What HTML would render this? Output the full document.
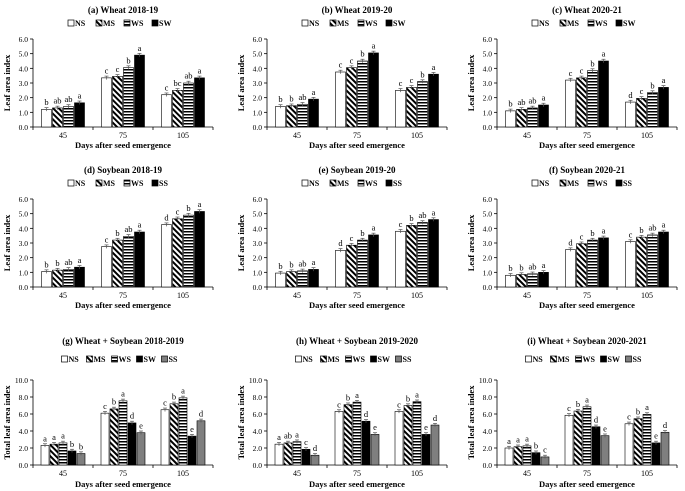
<!DOCTYPE html>
<html><head><meta charset="utf-8"><style>
body{margin:0;background:#fff}
svg{display:block;font-family:"Liberation Serif",serif}
</style></head><body>
<svg id="c" width="685" height="491">
<defs>
<pattern id="pMS" width="4" height="4" patternUnits="userSpaceOnUse" patternTransform="rotate(-45)"><rect width="4" height="4" fill="#fff"/><rect width="2" height="4" fill="#000"/></pattern>
<pattern id="pWS" width="4" height="3" patternUnits="userSpaceOnUse"><rect width="4" height="3" fill="#fff"/><rect width="4" height="1.5" fill="#000"/></pattern>
</defs>
</svg>
<script>
const categories=["45","75","105"];
const titles=["(a) Wheat 2018-19","(b) Wheat 2019-20","(c) Wheat 2020-21","(d) Soybean 2018-19","(e) Soybean 2019-20","(f) Soybean 2020-21","(g) Wheat + Soybean 2018-2019","(h) Wheat + Soybean 2019-2020","(i) Wheat + Soybean 2020-2021"];
const seriesRow1=["NS","MS","WS","SW"];
const seriesRow2=["NS","MS","WS","SS"];
const seriesRow3=["NS","MS","WS","SW","SS"];
const yTicksSmall=[0,1,2,3,4,5,6];
const yTicksLarge=[0,2,4,6,8,10];
const valuesA=[[1.2,1.3,1.4,1.65],[3.35,3.45,4.05,4.9],[2.2,2.5,3.0,3.35]];
const valuesB=[[1.4,1.45,1.55,1.9],[3.75,4.05,4.5,5.05],[2.5,2.7,3.1,3.6]];
const valuesC=[[1.1,1.2,1.3,1.5],[3.2,3.35,3.85,4.5],[1.7,1.95,2.35,2.7]];
const valuesD=[[1.05,1.15,1.2,1.35],[2.75,3.2,3.45,3.75],[4.25,4.65,4.9,5.15]];
const valuesE=[[0.95,1.05,1.1,1.2],[2.5,2.85,3.2,3.55],[3.8,4.2,4.4,4.6]];
const valuesF=[[0.8,0.85,0.9,1.0],[2.55,2.95,3.2,3.35],[3.1,3.4,3.55,3.75]];
const valuesG=[[2.3,2.45,2.6,1.65,1.35],[6.1,6.6,7.55,4.95,3.8],[6.5,7.2,7.9,3.4,5.2]];
const valuesH=[[2.45,2.6,2.75,1.85,1.15],[6.3,7.1,7.4,5.15,3.6],[6.3,7.0,7.45,3.6,4.7]];
const valuesI=[[2.0,2.15,2.25,1.45,0.95],[5.85,6.35,6.85,4.5,3.45],[4.85,5.45,5.95,2.6,3.85]];
const lettersA=[["b","ab","ab","a"],["c","c","b","a"],["c","bc","ab","a"]];
const lettersB=[["b","b","ab","a"],["c","c","b","a"],["c","c","b","a"]];
const lettersC=[["b","ab","ab","a"],["c","c","b","a"],["d","c","b","a"]];
const lettersD=[["b","b","ab","a"],["c","b","ab","a"],["d","c","b","a"]];
const lettersE=[["b","b","ab","a"],["d","c","b","a"],["c","b","ab","a"]];
const lettersF=[["b","b","ab","a"],["d","c","b","a"],["c","b","ab","a"]];
const lettersG=[["a","a","a","b","b"],["c","b","a","d","e"],["c","b","a","e","d"]];
const lettersH=[["a","ab","a","c","d"],["c","b","a","d","e"],["c","b","a","e","d"]];
const lettersI=[["a","a","a","b","c"],["c","b","a","d","e"],["c","b","a","e","d"]];
const errSmall=0.12, errLarge=0.2;

const svg=document.getElementById('c');
const NS='http://www.w3.org/2000/svg';
function mk(tag,attrs,parent,text){const e=document.createElementNS(NS,tag);for(const k in attrs)e.setAttribute(k,attrs[k]);if(text!==undefined)e.textContent=text;parent.appendChild(e);return e;}
const fills={NS:"#fff",MS:"url(#pMS)",WS:"url(#pWS)",SW:"#000",SS:"#000"};
const panels=[
 [valuesA,lettersA,seriesRow1],[valuesB,lettersB,seriesRow1],[valuesC,lettersC,seriesRow1],
 [valuesD,lettersD,seriesRow2],[valuesE,lettersE,seriesRow2],[valuesF,lettersF,seriesRow2],
 [valuesG,lettersG,seriesRow3],[valuesH,lettersH,seriesRow3],[valuesI,lettersI,seriesRow3]];
const colOff=[0,234,464];
const rowGeo=[{t:13,l:26,top:39,bot:127,tk:138,at:148},{t:173,l:186,top:199,bot:287,tk:298,at:308},{t:344,l:362,top:380,bot:465,tk:476,at:487}];
panels.forEach((p,i)=>{
 const [vals,lets,ser]=p;const r=Math.floor(i/3),c=i%3;const g=rowGeo[r];const ox=colOff[c];
 const big=r===2;const ticks=big?yTicksLarge:yTicksSmall;const ymax=ticks[ticks.length-1];
 const err=big?errLarge:errSmall;
 const G=mk('g',{},svg);
 
 
 const x0=ox+33,x1=ox+213;
 const y=v=>g.bot-(v/ymax)*(g.bot-g.top);
 const t=mk('text',{x:ox+123,y:g.t,'text-anchor':'middle','font-size':9,'font-weight':'bold'},G,titles[i]);
 
 const lw=big?25:28;let lx=ox+123-ser.length*lw/2;
 ser.forEach((s,k)=>{
  const le=mk('g',{},G);
  
  
  const fill=(big&&s==="SS")?"#7f7f7f":fills[s];
  mk('rect',{x:lx+k*lw+1,y:g.l-6,width:6,height:6,fill:fill,stroke:'#000','stroke-width':0.7},le);
  mk('text',{x:lx+k*lw+8,y:g.l,'font-size':8,'font-weight':'bold'},le,s);
 });
 const ya=mk('line',{x1:x0,y1:g.top,x2:x0,y2:g.bot,stroke:'#000','stroke-width':0.8},G);
 
 const xa=mk('line',{x1:x0,y1:g.bot,x2:x1,y2:g.bot,stroke:'#000','stroke-width':0.8},G);
 
 ticks.forEach(tv=>{
  mk('line',{x1:x0-3,y1:y(tv),x2:x0,y2:y(tv),stroke:'#000','stroke-width':0.8},G);
  const tl=mk('text',{x:x0-5,y:y(tv)+3,'text-anchor':'end','font-size':7.5},G,tv.toFixed(1));
  
 });
 const cw=(x1-x0)/categories.length;
 for(let k=0;k<=categories.length;k++)mk('line',{x1:x0+k*cw,y1:g.bot,x2:x0+k*cw,y2:g.bot+3,stroke:'#000','stroke-width':0.8},G);
 const bw=big?8:10,gap=1;
 categories.forEach((cat,ci)=>{
  const cx=x0+cw*(ci+0.5);
  const cl=mk('text',{x:cx,y:g.tk,'text-anchor':'middle','font-size':8},G,cat);
  
  const n=ser.length;const gw=n*bw+(n-1)*gap;
  ser.forEach((s,si)=>{
   const v=vals[ci][si];const bx=cx-gw/2+si*(bw+gap);
   const fill=(big&&s==="SS")?"#7f7f7f":fills[s];
   const b=mk('rect',{x:bx,y:y(v),width:bw,height:g.bot-y(v),fill:fill,stroke:'#000','stroke-width':0.6},G);
   
   
   const m=bx+bw/2;
   mk('line',{x1:m,y1:y(v+err),x2:m,y2:y(v-err),stroke:'#555','stroke-width':0.7},G);
   mk('line',{x1:m-2,y1:y(v+err),x2:m+2,y2:y(v+err),stroke:'#555','stroke-width':0.7},G);
   const lt=mk('text',{x:m,y:y(v+err)-2.5,'text-anchor':'middle','font-size':8.5},G,lets[ci][si]);
   
  });
 });
 const xt=mk('text',{x:ox+123,y:g.at,'text-anchor':'middle','font-size':8.5,'font-weight':'bold'},G,'Days after seed emergence');
 
 const cyy=(g.top+g.bot)/2;
 const yt=mk('text',{x:ox+10,y:cyy,'text-anchor':'middle','font-size':8.5,'font-weight':'bold',transform:`rotate(-90 ${ox+10} ${cyy})`},G,big?'Total leaf area index':'Leaf area index');
 
});
</script>
</body></html>
